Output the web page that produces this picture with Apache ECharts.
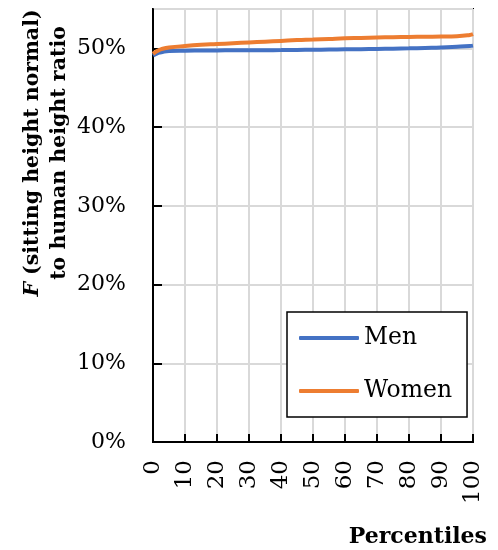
<!DOCTYPE html>
<html>
<head>
<meta charset="utf-8">
<script src="https://cdn.jsdelivr.net/npm/echarts@6/dist/echarts.min.js"></script>
<style>
  html, body { margin: 0; padding: 0; background: #fff; }
  #chart { width: 498px; height: 550px; }
</style>
</head>
<body>
<div id="chart"></div>
<script>
// percentiles (x) and ratio in % for each group
var percentiles = [0, 1, 2, 3, 5, 10, 15, 20, 25, 30, 35, 40, 45, 50, 55, 60, 65, 70, 75, 80, 85, 90, 95, 99, 100];
var men = [49.1, 49.3, 49.45, 49.55, 49.65, 49.7, 49.72, 49.74, 49.75, 49.76, 49.77, 49.78, 49.8, 49.82, 49.85, 49.88, 49.9, 49.93, 49.96, 50.0, 50.05, 50.1, 50.2, 50.3, 50.35];
var women = [49.3, 49.6, 49.8, 49.95, 50.1, 50.3, 50.45, 50.55, 50.65, 50.75, 50.85, 50.95, 51.05, 51.12, 51.2, 51.28, 51.33, 51.38, 51.42, 51.45, 51.48, 51.5, 51.55, 51.7, 51.8];
var seriesNames = ['Men', 'Women'];
var xTicks = [0, 10, 20, 30, 40, 50, 60, 70, 80, 90, 100];
var yTicks = [0, 10, 20, 30, 40, 50];

var chart = echarts.init(document.getElementById('chart'));

function pairs(ys) {
  return percentiles.map(function (p, i) { return [p, ys[i]]; });
}

var serif = '"DejaVu Serif", "Liberation Serif", serif';

var option = {
  animation: false,
  color: ['#4472C4', '#ED7D31'],
  grid: {
    left: 153,
    right: 25,
    top: 9,
    bottom: 108,
    show: true,
    borderColor: '#000',
    borderWidth: 2
  },
  legend: {
    orient: 'vertical',
    left: 287,
    top: 312,
    padding: [14, 15, 14, 12],
    itemGap: 29,
    itemWidth: 60,
    itemHeight: 4,
    icon: 'roundRect',
    backgroundColor: '#fff',
    borderColor: '#000',
    borderWidth: 1.5,
    borderRadius: 0,
    textStyle: { fontFamily: serif, fontSize: 23.5, color: '#000' },
    data: seriesNames
  },
  xAxis: {
    type: 'value',
    min: xTicks[0],
    max: xTicks[xTicks.length - 1],
    interval: 10,
    axisLine: { show: true, lineStyle: { color: '#000', width: 2 } },
    axisTick: { show: true, inside: true, length: 8, lineStyle: { color: '#000', width: 2 } },
    axisLabel: {
      rotate: 90,
      margin: 18,
      fontFamily: serif,
      fontSize: 23,
      color: '#000'
    },
    splitLine: { show: true, lineStyle: { color: '#d9d9d9', width: 2 } }
  },
  yAxis: {
    type: 'value',
    min: yTicks[0],
    max: 55,
    interval: 10,
    axisLine: { show: true, lineStyle: { color: '#000', width: 2 } },
    axisTick: { show: true, inside: true, length: 9, lineStyle: { color: '#000', width: 2 } },
    axisLabel: {
      margin: 27,
      showMaxLabel: false,
      fontFamily: serif,
      fontSize: 22,
      color: '#000',
      formatter: function (v) {
        return yTicks.indexOf(v) >= 0 ? v + '%' : '';
      }
    },
    splitLine: { show: true, lineStyle: { color: '#d9d9d9', width: 2 } }
  },
  graphic: [
    {
      type: 'text',
      x: 46,
      y: 153,
      rotation: Math.PI / 2,
      style: {
        text: '{i|F} (sitting height normal)\nto human height ratio',
        fontFamily: serif,
        fontSize: 20.5,
        fontWeight: 'bold',
        lineHeight: 27,
        fill: '#000',
        align: 'center',
        verticalAlign: 'middle',
        rich: {
          i: { fontFamily: serif, fontSize: 20.5, fontWeight: 'bold', fontStyle: 'italic', lineHeight: 27 }
        }
      }
    },
    {
      type: 'text',
      x: 487,
      y: 537,
      style: {
        text: 'Percentiles',
        fontFamily: serif,
        fontSize: 22,
        fontWeight: 'bold',
        fill: '#000',
        align: 'right',
        verticalAlign: 'middle'
      }
    }
  ],
  series: [
    {
      name: seriesNames[0],
      type: 'line',
      data: pairs(men),
      symbol: 'none',
      smooth: true,
      lineStyle: { width: 4 }
    },
    {
      name: seriesNames[1],
      type: 'line',
      data: pairs(women),
      symbol: 'none',
      smooth: true,
      lineStyle: { width: 4 }
    }
  ]
};

chart.setOption(option);
</script>
</body>
</html>
